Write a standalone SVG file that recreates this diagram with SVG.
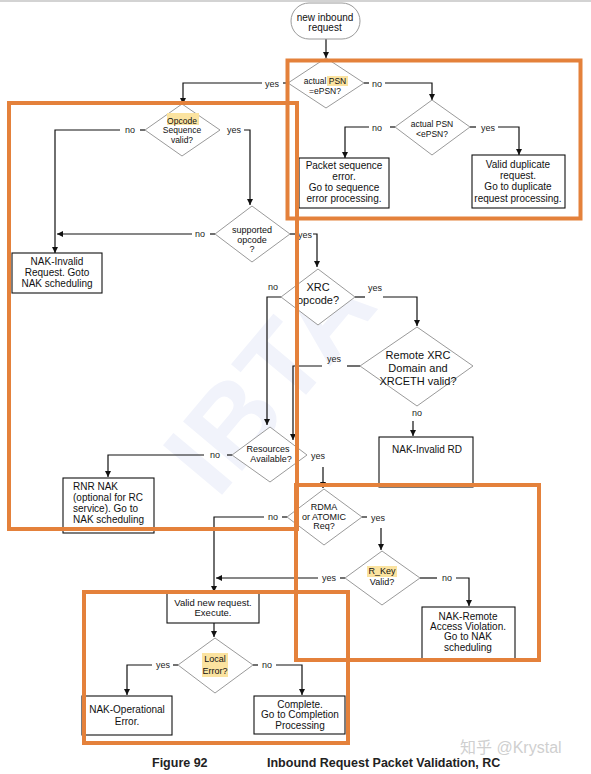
<svg xmlns="http://www.w3.org/2000/svg" width="591" height="774" viewBox="0 0 591 774">
<style>
text{font-family:"Liberation Sans",Arial,sans-serif;fill:#111;text-anchor:middle}
.s8{font-size:8.5px}.s9{font-size:9px}.s95{font-size:9.5px}.s10{font-size:10px}.s11{font-size:11px}
.lbl{font-size:9px;fill:#222}
.dia{fill:#fff;stroke:#9a9a9a;stroke-width:1}
.box{fill:#fff;stroke:#111;stroke-width:1.1}
.ln{fill:none;stroke:#111;stroke-width:1.2}
.arr{marker-end:url(#ah)}
.org{fill:none;stroke:#E4813B;stroke-width:4}
.hl{fill:#FBE3A0}
.cap{font-size:12.5px;font-weight:bold;fill:#222}
</style>
<defs>
<marker id="ah" markerUnits="userSpaceOnUse" markerWidth="6" markerHeight="6" refX="6" refY="3" orient="auto">
<path d="M0,0 L6,3 L0,6 z" fill="#111"/>
</marker>
</defs>
<rect width="591" height="774" fill="#fff"/>
<line x1="0" y1="1" x2="591" y2="1" stroke="#c4c4c4" stroke-width="1.5"/>
<g id="watermark-ibta" transform="translate(268,378) rotate(-50)">
<text x="0" y="40" style="font-size:112px;font-weight:bold;fill:#f1f3fb">IBTA</text>
</g>

<g id="connectors">
<path class="ln arr" d="M326,39 V58"/>
<path class="ln" d="M288,83 H283"/><text class="lbl" x="272" y="87">yes</text>
<path class="ln arr" d="M262,83 H183 V104"/>
<path class="ln" d="M364,83 H369"/><text class="lbl" x="377" y="87">no</text>
<path class="ln arr" d="M385,83 H432 V100"/>
<path class="ln" d="M395,127 H390"/><text class="lbl" x="377" y="131">no</text>
<path class="ln arr" d="M369,127 H345 V158"/>
<path class="ln" d="M470,127 H476"/><text class="lbl" x="488" y="131">yes</text>
<path class="ln arr" d="M498,127 H519 V155"/>
<path class="ln" d="M145,130 H140"/><text class="lbl" x="130" y="133">no</text>
<path class="ln arr" d="M120,130 H55 V253"/>
<text class="lbl" x="234" y="133">yes</text>
<path class="ln arr" d="M244,130 H250 V205"/>
<path class="ln" d="M215,234 H210"/><text class="lbl" x="200" y="237">no</text>
<path class="ln arr" d="M192,234 H57"/>
<path class="ln" d="M290,234 H296"/><text class="lbl" x="305" y="238">yes</text>
<path class="ln arr" d="M313,234 H317 V267"/>
<text class="lbl" x="273" y="290">no</text>
<path class="ln arr" d="M281,297 H267 V425"/>
<path class="ln" d="M355,297 H365"/><text class="lbl" x="375" y="291">yes</text>
<path class="ln arr" d="M383,297 H417 V326"/>
<path class="ln" d="M360,366 H347"/><text class="lbl" x="334" y="362">yes</text>
<path class="ln arr" d="M322,366 H293 V440"/>
<text class="lbl" x="417" y="416">no</text>
<path class="ln arr" d="M413,421 V436"/>
<path class="ln" d="M232,455 H227"/><text class="lbl" x="215" y="458">no</text>
<path class="ln arr" d="M204,455 H108 V477"/>
<text class="lbl" x="318" y="459">yes</text>
<path class="ln arr" d="M323,467 V488"/>
<path class="ln" d="M287,517 H282"/><text class="lbl" x="273" y="520">no</text>
<path class="ln arr" d="M264,517 H214 V592"/>
<path class="ln" d="M362,517 H367"/><text class="lbl" x="378" y="521">yes</text>
<path class="ln arr" d="M381,528 V550"/>
<path class="ln" d="M345,578 H340"/><text class="lbl" x="329" y="581">yes</text>
<path class="ln arr" d="M318,578 H216"/>
<path class="ln" d="M420,578 H437"/><text class="lbl" x="447" y="581">no</text>
<path class="ln arr" d="M456,578 H469 V606"/>
<path class="ln arr" d="M214,623 V637"/>
<path class="ln" d="M178,665 H173"/><text class="lbl" x="163" y="668">yes</text>
<path class="ln arr" d="M152,665 H127 V695"/>
<path class="ln" d="M253,665 H258"/><text class="lbl" x="267" y="668">no</text>
<path class="ln arr" d="M276,665 H302 V695"/>
</g>

<g id="start">
<rect x="291" y="3" width="69" height="36" rx="18" fill="#fff" stroke="#9a9a9a"/>
<text class="s10" x="325" y="21">new inbound</text>
<text class="s10" x="325" y="31">request</text>
</g>
<g id="d-psn-eq">
<polygon class="dia" points="326,58 364,83 326,108 288,83"/>
<rect class="hl" x="327" y="76" width="21" height="10"/>
<text class="s8" x="325" y="84">actual PSN</text>
<text class="s8" x="325" y="94">=ePSN?</text>
</g>
<g id="d-psn-lt">
<polygon class="dia" points="432,100 470,127 432,155 395,127"/>
<text class="s8" x="432" y="127">actual PSN</text>
<text class="s8" x="432" y="137">&lt;ePSN?</text>
</g>
<g id="b-seq-err">
<rect class="box" x="299" y="158" width="90" height="50"/>
<text class="s10" x="344" y="169">Packet sequence</text>
<text class="s10" x="344" y="180">error.</text>
<text class="s10" x="344" y="191">Go to sequence</text>
<text class="s10" x="344" y="202">error processing.</text>
</g>
<g id="b-dup">
<rect class="box" x="472" y="155" width="93" height="53"/>
<text class="s10" x="518" y="168">Valid duplicate</text>
<text class="s10" x="518" y="179">request.</text>
<text class="s10" x="518" y="190">Go to duplicate</text>
<text class="s10" x="518" y="202">request processing.</text>
</g>
<g id="d-opcode-seq">
<polygon class="dia" points="182,104 220,130 182,156 145,130"/>
<rect class="hl" x="167" y="113" width="32" height="12"/>
<text class="s8" x="182" y="124">Opcode</text>
<text class="s8" x="182" y="133">Sequence</text>
<text class="s8" x="182" y="143">valid?</text>
</g>
<g id="d-supported">
<polygon class="dia" points="252,206 290,234 252,262 215,234"/>
<text class="s9" x="252" y="233">supported</text>
<text class="s9" x="252" y="243">opcode</text>
<text class="s9" x="252" y="252">?</text>
</g>
<g id="b-nak-invalid">
<rect class="box" x="12" y="253" width="90" height="40"/>
<text class="s10" x="57" y="265">NAK-Invalid</text>
<text class="s10" x="57" y="276">Request. Goto</text>
<text class="s10" x="57" y="287">NAK scheduling</text>
</g>
<g id="d-xrc">
<polygon class="dia" points="318,269 355,297 318,325 281,297"/>
<text class="s11" x="318" y="291">XRC</text>
<text class="s11" x="318" y="304">opcode?</text>
</g>
<g id="d-remote-xrc">
<polygon class="dia" points="417,327 473,366 417,406 360,366"/>
<text class="s11" x="418" y="359">Remote XRC</text>
<text class="s11" x="418" y="372">Domain and</text>
<text class="s11" x="418" y="385">XRCETH valid?</text>
</g>
<g id="b-nak-rd">
<rect class="box" x="379" y="437" width="94" height="50"/>
<text class="s10" x="427" y="453">NAK-Invalid RD</text>
</g>
<g id="d-resources">
<polygon class="dia" points="270,427 307,455 270,482 232,455"/>
<text class="s9" x="268" y="452">Resources</text>
<text class="s9" x="271" y="462">Available?</text>
</g>
<g id="b-rnr">
<rect class="box" x="63" y="478" width="91" height="55"/>
<text class="s10" x="73" y="490" style="text-anchor:start">RNR NAK</text>
<text class="s10" x="73" y="501" style="text-anchor:start">(optional for RC</text>
<text class="s10" x="73" y="512" style="text-anchor:start">service). Go to</text>
<text class="s10" x="73" y="523" style="text-anchor:start">NAK scheduling</text>
</g>
<g id="d-rdma">
<polygon class="dia" points="324,489 362,517 324,545 287,517"/>
<text class="s9" x="324" y="510">RDMA</text>
<text class="s9" x="324" y="520">or ATOMIC</text>
<text class="s9" x="324" y="529">Req?</text>
</g>
<g id="d-rkey">
<polygon class="dia" points="382,551 420,578 382,605 345,578"/>
<rect class="hl" x="367" y="566" width="30" height="11"/>
<text class="s9" x="382" y="574">R_Key</text>
<text class="s9" x="382" y="585">Valid?</text>
</g>
<g id="b-nak-remote">
<rect class="box" x="422" y="607" width="93" height="53"/>
<text class="s10" x="468" y="620">NAK-Remote</text>
<text class="s10" x="468" y="630">Access Violation.</text>
<text class="s10" x="468" y="640">Go to NAK</text>
<text class="s10" x="468" y="651">scheduling</text>
</g>
<g id="b-valid-new">
<rect class="box" x="167" y="593" width="92" height="30"/>
<text class="s95" x="213" y="606">Valid new request.</text>
<text class="s95" x="213" y="616">Execute.</text>
</g>
<g id="d-local-err">
<polygon class="dia" points="215,638 253,665 215,693 178,665"/>
<rect class="hl" x="202" y="653" width="26" height="24"/>
<text class="s9" x="215" y="662">Local</text>
<text class="s9" x="215" y="674">Error?</text>
</g>
<g id="b-nak-op">
<rect class="box" x="82" y="696" width="90" height="39"/>
<text class="s10" x="127" y="713">NAK-Operational</text>
<text class="s10" x="127" y="725">Error.</text>
</g>
<g id="b-complete">
<rect class="box" x="254" y="696" width="91" height="38"/>
<text class="s10" x="300" y="708">Complete.</text>
<text class="s10" x="300" y="718">Go to Completion</text>
<text class="s10" x="300" y="729">Processing</text>
</g>

<g id="highlight-frames">
<rect class="org" x="287.5" y="60.5" width="293" height="158"/>
<rect class="org" x="9" y="103" width="288" height="426"/>
<rect class="org" x="296" y="485" width="243" height="175"/>
<rect class="org" x="84" y="592" width="264" height="151"/>
</g>

<g id="caption">
<text class="cap" x="152" y="767" style="text-anchor:start">Figure 92</text>
<text class="cap" x="267" y="767" style="text-anchor:start">Inbound Request Packet Validation, RC</text>
<text x="460" y="753" style="text-anchor:start;font-size:16px;fill:#cfcfcf;font-family:'Liberation Sans','Noto Sans CJK SC',sans-serif">知乎 @Krystal</text>
</g>
</svg>
